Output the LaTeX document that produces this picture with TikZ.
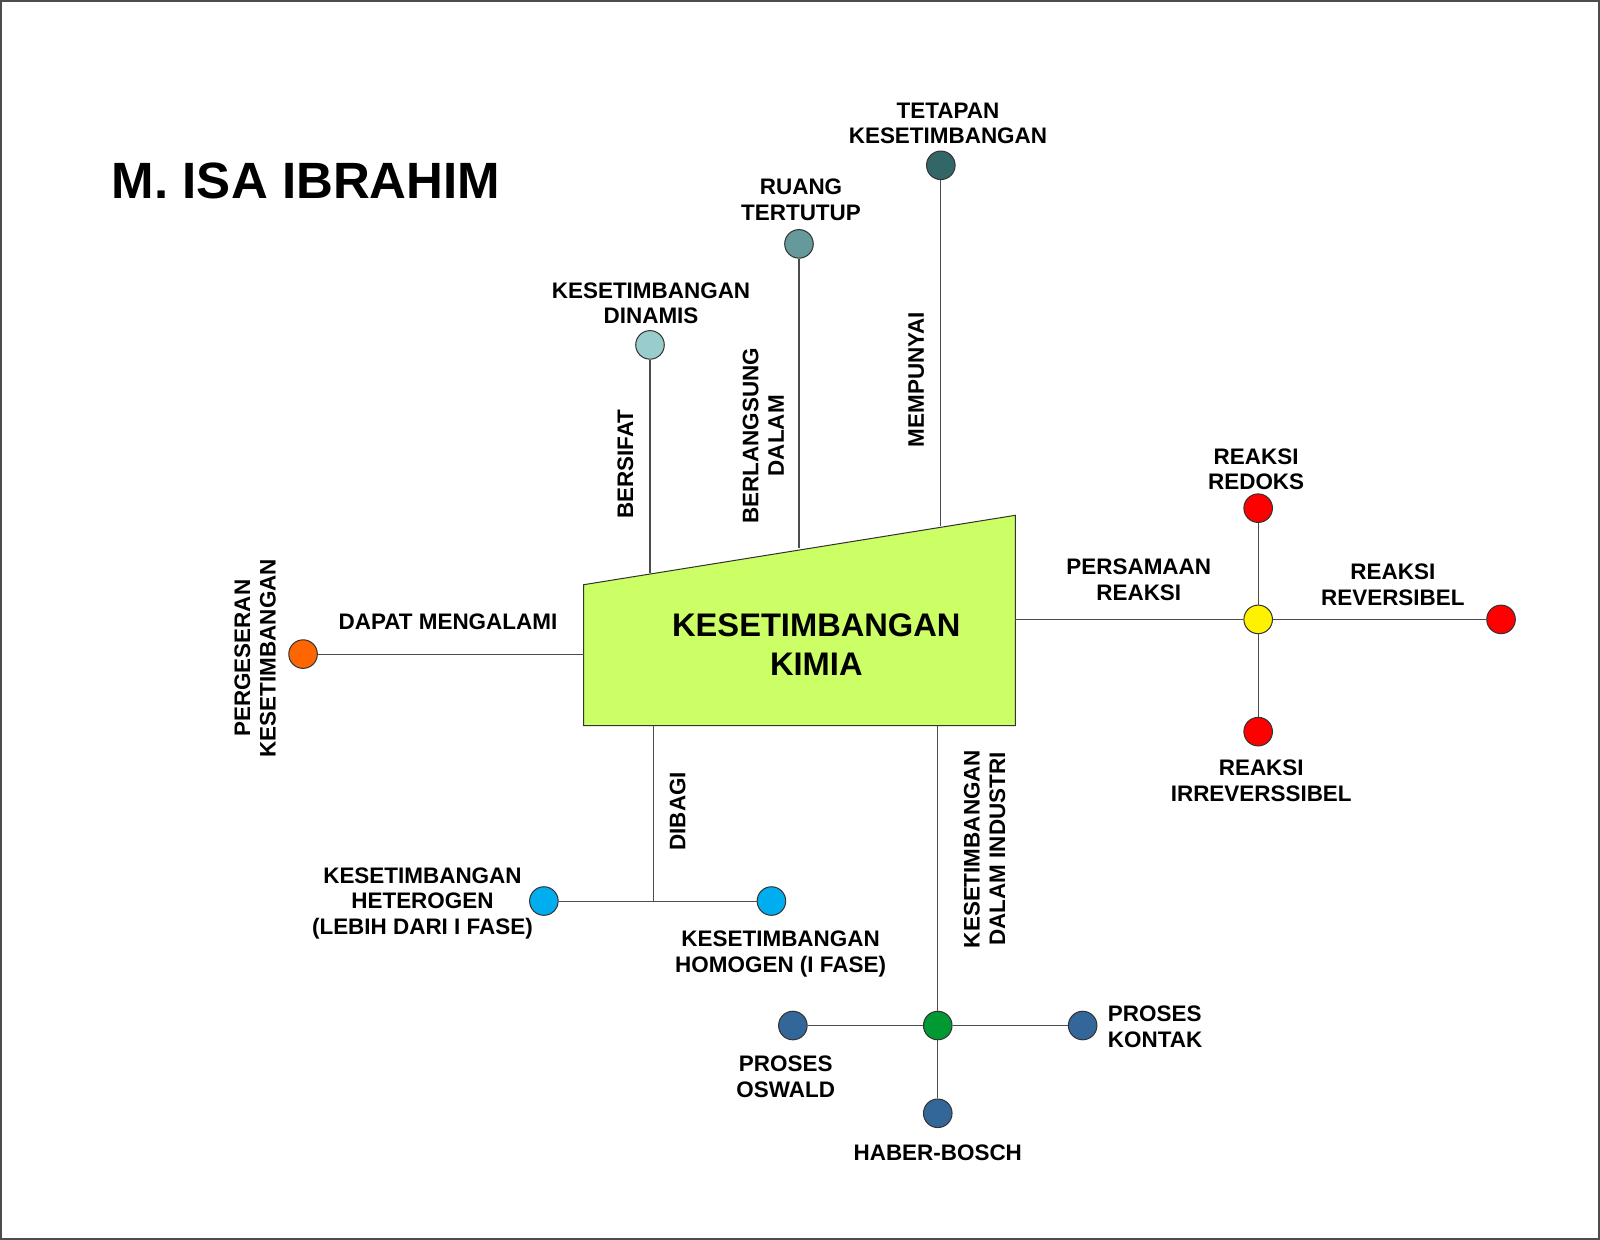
\documentclass[tikz,border=0pt]{standalone}
\usepackage{fontspec}
\setmainfont{Liberation Sans}
\begin{document}
\begin{tikzpicture}[x=0.5pt,y=-0.5pt,
  dot/.style={circle,draw=black!80,line width=0.5pt,minimum size=14pt,inner sep=0pt},
  lbl/.style={font=\bfseries\fontsize{11}{12.5}\selectfont,align=center,inner sep=0pt},
  con/.style={draw=black!70,line width=0.5pt}]
\draw[black!70,line width=0.8pt] (1,1) rectangle (1567,1214);
\useasboundingbox (0,0) rectangle (1568,1215);
\node[font=\bfseries\fontsize{25}{28}\selectfont] (title) at (300,177) {M. ISA IBRAHIM};
\draw[black!80,fill={rgb,255:red,204;green,255;blue,102},line width=0.5pt] (572,573)--(995,505)--(995,711)--(572,711)--cycle;
\node[font=\bfseries\fontsize{16}{19}\selectfont,align=center] (main) at (800,632) {KESETIMBANGAN\\KIMIA};
\coordinate (mL) at (572,641);
\coordinate (mT1) at (637,562);
\coordinate (mT2) at (783,537);
\coordinate (mT3) at (922,515);
\coordinate (mR) at (995,607);
\coordinate (mB1) at (640,711);
\coordinate (mB2) at (919,711);
\coordinate (jB1) at (640,883);
% nodes
\node[dot,fill={rgb,255:red,255;green,102;blue,0}] (peg) at (297,641) {};
\node[dot,fill={rgb,255:red,153;green,204;blue,204}] (din) at (637,338) {};
\node[dot,fill={rgb,255:red,102;green,153;blue,153}] (rua) at (783,239) {};
\node[dot,fill={rgb,255:red,51;green,102;blue,102}] (tet) at (922,162) {};
\node[dot,fill=yellow] (per) at (1233,607) {};
\node[dot,fill=red] (rev) at (1471,607) {};
\node[dot,fill=red] (red) at (1233,498) {};
\node[dot,fill=red] (irr) at (1233,717) {};
\node[dot,fill=cyan] (het) at (533,883) {};
\node[dot,fill=cyan] (hom) at (756,883) {};
\node[dot,fill={rgb,255:red,0;green,153;blue,51}] (ind) at (919,1005) {};
\node[dot,fill={rgb,255:red,51;green,102;blue,153}] (osw) at (777,1005) {};
\node[dot,fill={rgb,255:red,51;green,102;blue,153}] (kon) at (1061,1005) {};
\node[dot,fill={rgb,255:red,51;green,102;blue,153}] (hab) at (919,1091) {};
% connectors
\draw[con] (mL)--(peg); \draw[con] (mT1)--(din); \draw[con] (mT2)--(rua); \draw[con] (mT3)--(tet);
\draw[con] (mR)--(per); \draw[con] (per)--(rev); \draw[con] (per)--(red); \draw[con] (per)--(irr);
\draw[con] (mB1)--(jB1); \draw[con] (het)--(hom);
\draw[con] (mB2)--(ind); \draw[con] (osw)--(ind); \draw[con] (ind)--(kon); \draw[con] (ind)--(hab);
% labels
\node[lbl] at (439,609) {DAPAT MENGALAMI};
\node[lbl,rotate=90] at (250,645) {PERGESERAN\\KESETIMBANGAN};
\node[lbl] at (638,297) {KESETIMBANGAN\\DINAMIS};
\node[lbl,rotate=90] at (613,455) {BERSIFAT};
\node[lbl] at (785,196) {RUANG\\TERTUTUP};
\node[lbl,rotate=90] at (748,427) {BERLANGSUNG\\DALAM};
\node[lbl] at (929,121) {TETAPAN\\KESETIMBANGAN};
\node[lbl,rotate=90] at (898,372) {MEMPUNYAI};
\node[lbl] at (1116,568) {PERSAMAAN\\REAKSI};
\node[lbl] at (1231,460) {REAKSI\\REDOKS};
\node[lbl] at (1365,573) {REAKSI\\REVERSIBEL};
\node[lbl] at (1236,765) {REAKSI\\IRREVERSSIBEL};
\node[lbl,rotate=90] at (664,795) {DIBAGI};
\node[lbl] at (414,885) {KESETIMBANGAN\\HETEROGEN\\(LEBIH DARI I FASE)};
\node[lbl] at (765,935) {KESETIMBANGAN\\HOMOGEN (I FASE)};
\node[lbl,rotate=90] at (965,832) {KESETIMBANGAN\\DALAM INDUSTRI};
\node[lbl] at (770,1055) {PROSES\\OSWALD};
\node[lbl,align=left] at (1132,1006) {PROSES\\KONTAK};
\node[lbl] at (919,1130) {HABER-BOSCH};
\end{tikzpicture}
\end{document}
